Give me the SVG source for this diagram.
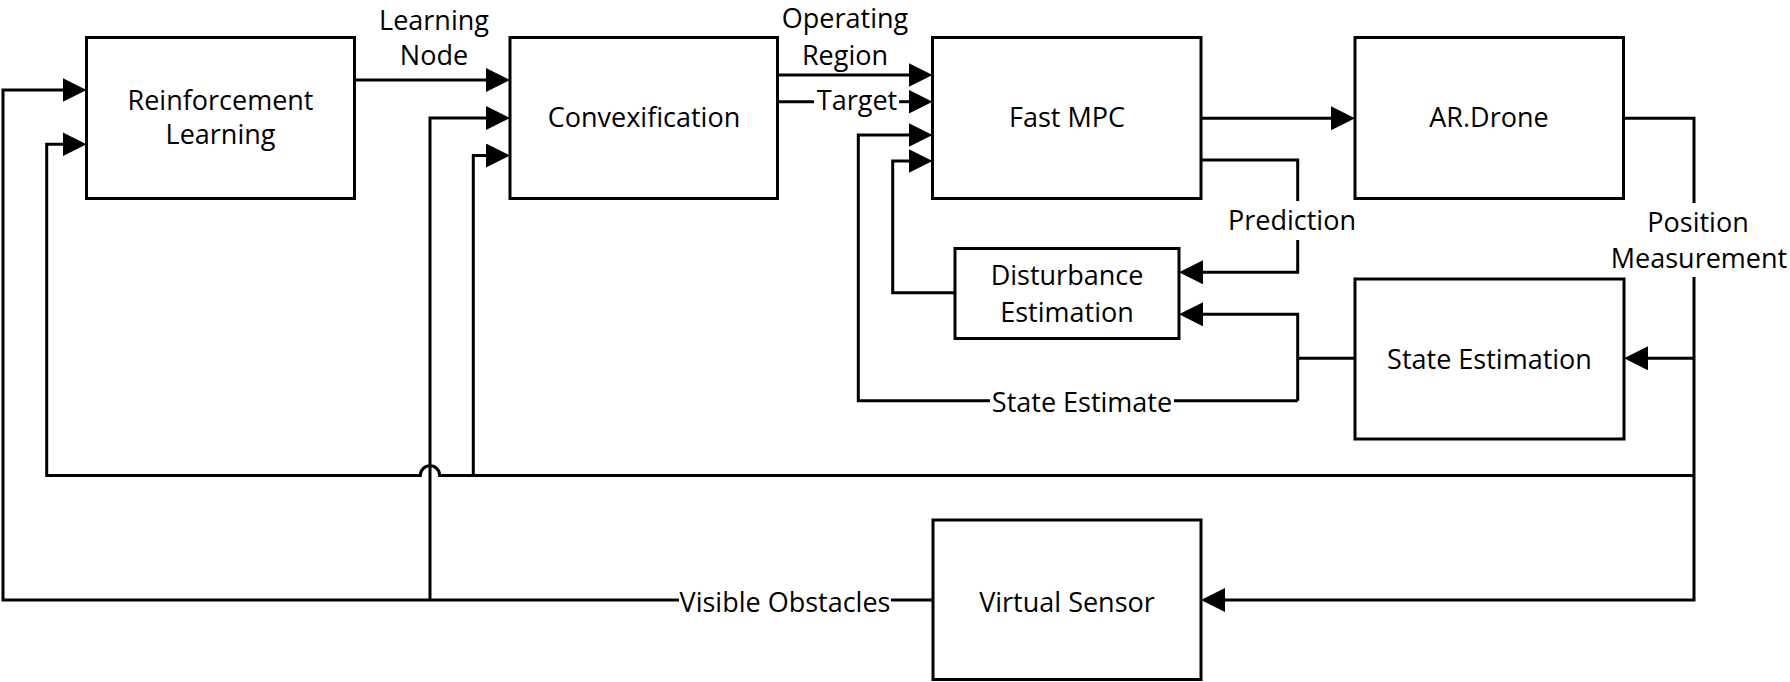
<svg xmlns="http://www.w3.org/2000/svg" width="1790" height="682" viewBox="0 0 1790 682">
<style>
.box{fill:#fff;stroke:#000;stroke-width:3}
.ln{fill:none;stroke:#000;stroke-width:3}
.ar{marker-end:url(#ah)}
text{font-family:"Open Sans","Noto Sans",sans-serif;font-size:27px;fill:#000;text-anchor:middle}
</style>
<defs>
<marker id="ah" markerUnits="userSpaceOnUse" markerWidth="24" markerHeight="24" refX="12" refY="12" orient="auto">
<path d="M0,0 L24,12 L0,24 z" fill="#000"/>
</marker>
</defs>
<rect width="1790" height="682" fill="#fff"/>
<g id="connectors">
<path class="ln ar" d="M354.5,80 H498"/>
<path class="ln ar" d="M777.5,75 H920.5"/>
<path class="ln" d="M777.5,101.7 H814"/>
<path class="ln ar" d="M899,101.7 H920.5"/>
<path class="ln ar" d="M1201,118.3 H1343"/>
<path class="ln" d="M1201,160 H1297.7 V201"/>
<path class="ln ar" d="M1297.7,240 V272.3 H1191"/>
<path class="ln" d="M1623.5,118.3 H1694 V203"/>
<path class="ln ar" d="M1694,277 V600 H1213"/>
<path class="ln ar" d="M1694,358.3 H1636"/>
<path class="ln" d="M1355,358.3 H1297.7"/>
<path class="ln ar" d="M1297.7,400.7 V314.3 H1191"/>
<path class="ln" d="M1297.7,400.7 H1174"/>
<path class="ln ar" d="M990,400.7 H858.3 V135 H920.5"/>
<path class="ln ar" d="M955,292.7 H892.7 V161 H920.5"/>
<path class="ln ar" d="M1694,475.5 H439.7 A9.7,9.7 0 0 0 420.3,475.5 H46.7 V144.3 H74.5"/>
<path class="ln ar" d="M473.3,475.5 V155.5 H498"/>
<path class="ln" d="M933,600 H891"/>
<path class="ln ar" d="M679,600 H3 V90 H74.5"/>
<path class="ln ar" d="M430,600 V118 H498"/>
<text x="434" y="30">Learning</text>
<text x="434" y="65">Node</text>
<text x="845" y="28">Operating</text>
<text x="845" y="65">Region</text>
<text x="857" y="110">Target</text>
<text x="1292" y="230">Prediction</text>
<text x="1698" y="232">Position</text>
<text x="1699" y="268">Measurement</text>
<text x="1082" y="412">State Estimate</text>
<text x="785" y="612">Visible Obstacles</text>
</g>
<g id="reinforcement-learning">
<rect class="box" x="86.5" y="37.5" width="268" height="161"/>
<text x="220.5" y="110">Reinforcement</text>
<text x="220.5" y="144">Learning</text>
</g>
<g id="convexification">
<rect class="box" x="510" y="37.5" width="267.5" height="161"/>
<text x="644" y="127">Convexification</text>
</g>
<g id="fast-mpc">
<rect class="box" x="932.5" y="37.5" width="268.5" height="161"/>
<text x="1067" y="127">Fast MPC</text>
</g>
<g id="ar-drone">
<rect class="box" x="1355" y="37.5" width="268.5" height="161"/>
<text x="1489" y="127">AR.Drone</text>
</g>
<g id="disturbance-estimation">
<rect class="box" x="955" y="248.5" width="224" height="90"/>
<text x="1067" y="285">Disturbance</text>
<text x="1067" y="322">Estimation</text>
</g>
<g id="state-estimation">
<rect class="box" x="1355" y="279" width="269" height="160"/>
<text x="1489.5" y="369">State Estimation</text>
</g>
<g id="virtual-sensor">
<rect class="box" x="933" y="520" width="268" height="159.5"/>
<text x="1067" y="612">Virtual Sensor</text>
</g>
</svg>
